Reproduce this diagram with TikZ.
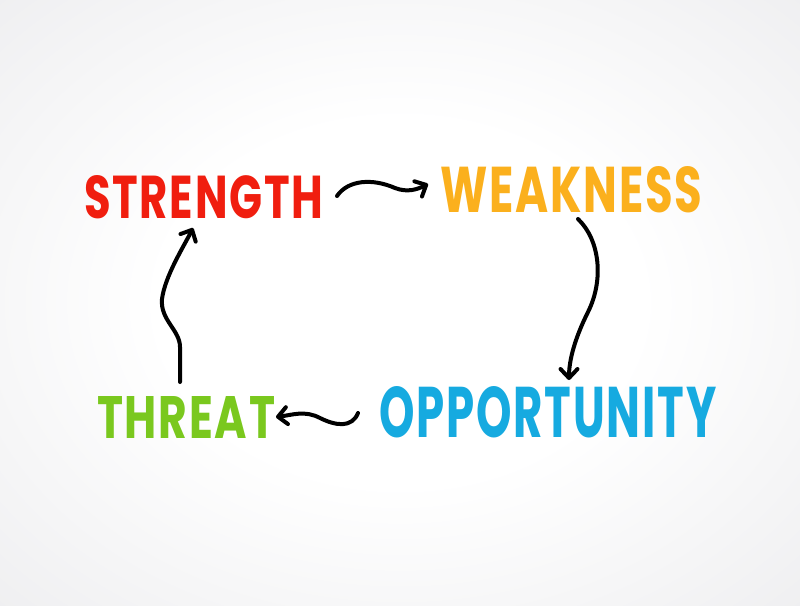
\documentclass[tikz,border=0pt]{standalone}
\usepackage{fontspec}
\usetikzlibrary{arrows.meta}
\newfontfamily\wordfont{Poppins}[LetterSpace=4]
\definecolor{strred}{RGB}{240,30,15}
\definecolor{weakorange}{RGB}{251,176,29}
\definecolor{oppblue}{RGB}{22,170,224}
\definecolor{thrgreen}{RGB}{122,200,30}
\definecolor{bgedge}{RGB}{228,228,231}
\definecolor{bgcorner}{RGB}{214,214,218}
\pgfdeclareradialshading{bgshade}{\pgfpoint{0bp}{0bp}}{color(0bp)=(white); color(15bp)=(white); color(50bp)=(bgedge); color(71bp)=(bgcorner)}
\tikzset{
  word/.style={inner sep=0pt, anchor=north west, text=#1},
  flow/.style={line width=4pt, line cap=round, line join=round, black,
    -{Straight Barb[length=9pt, width=17pt, line cap=round, line join=round]}}
}
\newcommand{\fitword}[3]{\resizebox{#1pt}{#2pt}{\wordfont\bfseries #3}}
\begin{document}
\begin{tikzpicture}[x=1pt, y=-1pt]
\useasboundingbox (0,0) rectangle (800,605);
\shade[shading=bgshade] (0,0) rectangle (800,605);
% words
\node[word=strred] (S) at (84,175) {\fitword{239}{43}{STRENGTH}};
\node[word=weakorange] (W) at (440,166) {\fitword{262}{46}{WEAKNESS}};
\node[word=oppblue] (O) at (379,386) {\fitword{337}{51}{OPPORTUNITY}};
\node[word=thrgreen] (T) at (97,396) {\fitword{178}{42}{THREAT}};
% arrow end points
\coordinate (s1) at (337,196);
\coordinate (w0) at (428,184);
\coordinate (w1) at (578,219);
\coordinate (o0) at (569,380);
\coordinate (o1) at (358,413);
\coordinate (t0) at (276,417);
\coordinate (t1) at (180,382);
\coordinate (s0) at (193,228);
% connectors
\draw[flow] (s1) .. controls (348,180) and (372,178) .. (395,188) .. controls (408,193) and (418,189) .. (w0);
\draw[flow] (w1) .. controls (600,240) and (604,280) .. (588,312) .. controls (575,338) and (569,360) .. (o0);
\draw[flow] (o1) .. controls (352,428) and (336,426) .. (320,418) .. controls (305,410) and (292,415) .. (t0);
\draw[flow] (t1) -- (180,347) .. controls (180,330) and (160,320) .. (162,299) .. controls (165,276) and (184,246) .. (s0);
\end{tikzpicture}
\end{document}
